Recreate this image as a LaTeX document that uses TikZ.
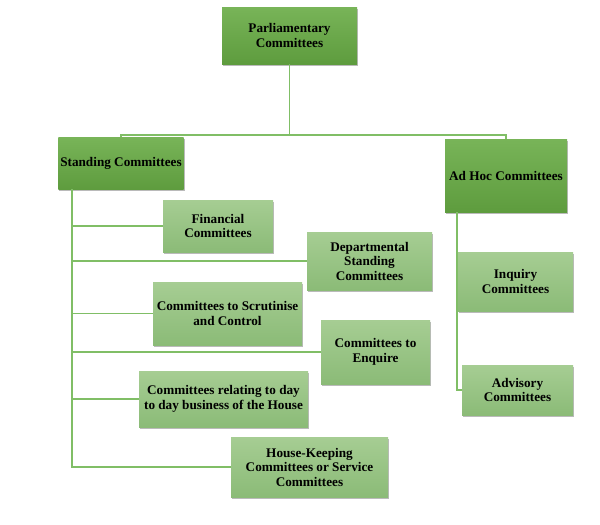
\documentclass[tikz,border=0pt]{standalone}
\usepackage{fontspec}
\setmainfont{Liberation Serif}
\usepackage{tikz}
\usetikzlibrary{shadows}
\definecolor{darkgreen}{HTML}{5E9C3E}
\definecolor{midgreen}{HTML}{78B458}
\definecolor{palegreen}{HTML}{A6CD93}
\definecolor{softgreen}{HTML}{8BBB77}
\definecolor{linegreen}{HTML}{80BE66}
\tikzset{
    gbox/.style={rectangle, draw=none, align=center, inner sep=2pt,
        font=\bfseries\fontsize{13.2}{14.5}\selectfont,
        drop shadow={shadow xshift=1pt, shadow yshift=-2pt, fill=black!45, opacity=0.6}},
    topbox/.style={gbox, top color=midgreen, bottom color=darkgreen},
    subbox/.style={gbox, top color=palegreen, bottom color=softgreen},
    link/.style={draw=linegreen, line width=1.2pt},
}

\begin{document}
\begin{tikzpicture}[x=1pt, y=-1pt]
    \useasboundingbox (0,0) rectangle (600,525);

    % Top level
    \node[topbox, minimum width=135pt, minimum height=57pt] (parl) at (289.5,35.5) {Parliamentary\\Committees};
    \node[topbox, minimum width=124pt, minimum height=52pt] (standing) at (121,163) {Standing Committees};
    \node[topbox, minimum width=122pt, minimum height=73pt] (adhoc) at (506,175.5) {Ad Hoc Committees};

    % Standing committees
    \node[subbox, minimum width=110pt, minimum height=52pt] (financial) at (218,226) {Financial\\Committees};
    \node[subbox, minimum width=125pt, minimum height=58pt] (departmental) at (369.5,261) {Departmental\\Standing\\Committees};
    \node[subbox, minimum width=149pt, minimum height=63pt] (scrutinise) at (227.5,313.5) {Committees to Scrutinise\\and Control};
    \node[subbox, minimum width=109pt, minimum height=64pt] (enquire) at (375.5,352) {Committees to\\Enquire};
    \node[subbox, minimum width=169pt, minimum height=56pt] (daytoday) at (223.5,399) {Committees relating to day\\to day business of the House};
    \node[subbox, minimum width=157pt, minimum height=60pt] (housekeeping) at (309.5,467) {House-Keeping\\Committees or Service\\Committees};

    % Ad hoc committees
    \node[subbox, minimum width=115pt, minimum height=59pt] (inquiry) at (515.5,281.5) {Inquiry\\Committees};
    \node[subbox, minimum width=111pt, minimum height=50pt] (advisory) at (517.5,390) {Advisory\\Committees};

    % Connectors
    \coordinate (split) at (289.5,135);
    \coordinate (strunk) at (72,189);
    \coordinate (atrunk) at (457,212);
    \draw[link] (parl) -- (split) -| (standing);
    \draw[link] (split) -| (adhoc);
    \foreach \child in {financial, departmental, scrutinise, enquire, daytoday, housekeeping}
        \draw[link] (strunk) |- (\child.west);
    \foreach \child in {inquiry, advisory}
        \draw[link] (atrunk) |- (\child.west);
\end{tikzpicture}
\end{document}
